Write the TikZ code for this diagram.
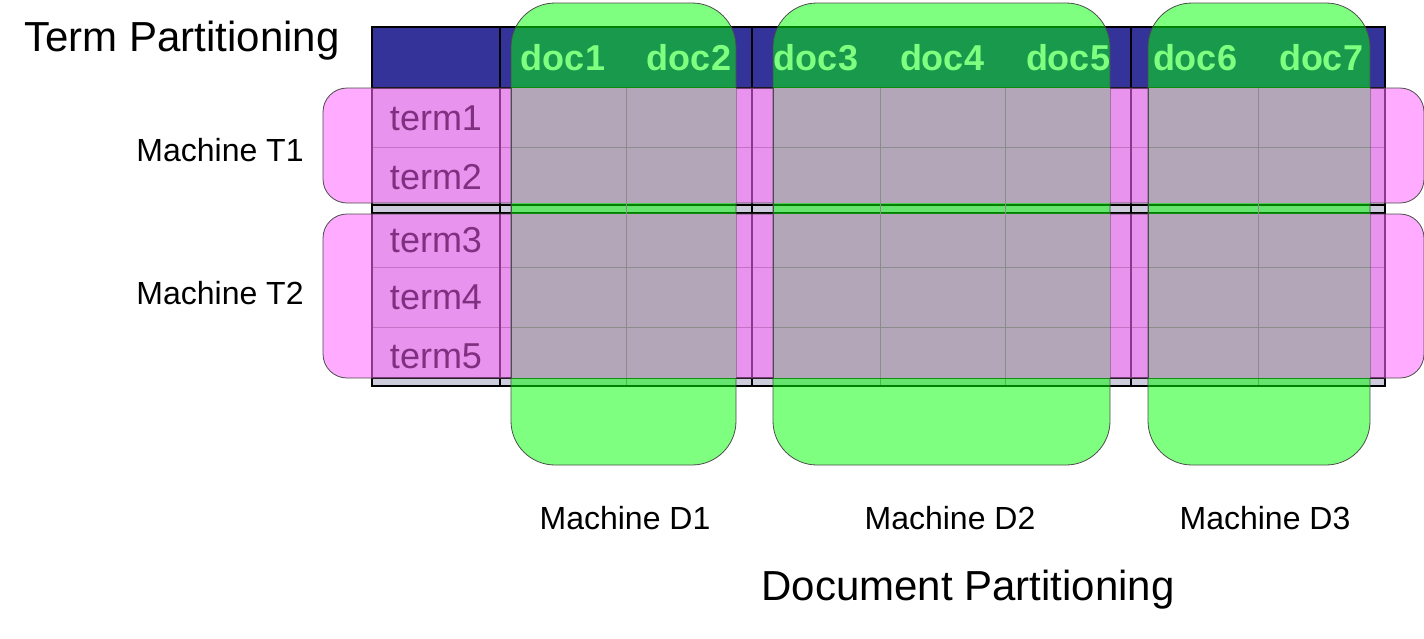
\documentclass[tikz,border=0pt]{standalone}
\usepackage{fontspec}
\setmainfont{Liberation Sans}
\usetikzlibrary{positioning}
\definecolor{hdrblue}{RGB}{51,51,153}
\definecolor{cellgray}{RGB}{204,204,221}
\definecolor{termpink}{RGB}{255,102,255}
\definecolor{mixgray}{RGB}{179,166,184}
\definecolor{termtext}{RGB}{128,48,128}
\tikzset{
  machinelabel/.style={font=\fontsize{16}{19}\selectfont},
  titlelabel/.style={font=\fontsize{21}{25}\selectfont},
  doclabel/.style={text=white,font=\fontsize{18}{21}\selectfont\bfseries},
  termlabel/.style={text=termtext,font=\fontsize{18}{21}\selectfont},
  termbox/.style={draw=black!70,fill=termpink,fill opacity=0.55,rounded corners=12pt},
  docbox/.style={draw=black!70,fill=green,fill opacity=0.5,rounded corners=22pt}
}
\begin{document}
\begin{tikzpicture}[x=0.5pt,y=-0.5pt]
\useasboundingbox (0,0) rectangle (1424,638);
% table
\fill[hdrblue] (372,27) rectangle (1385,88);
\fill[cellgray] (372,88) rectangle (1385,386);
\foreach \y in {88,147,205,213,267,327,378}
  \draw[black!50] (372,\y) -- (1385,\y);
\foreach \x in {626,880,1005,1258}
  \draw[black!50] (\x,88) -- (\x,386);
\draw[thick] (372,27) rectangle (1385,386);
\foreach \x in {500,752,1131}
  \draw[thick] (\x,27) -- (\x,386);
\foreach \y in {88,205,213,378}
  \draw[thick] (372,\y) -- (1385,\y);
\foreach \x/\d in {563/1,689/2,816/3,942/4,1068/5,1195/6,1321/7}
  \node[doclabel] (doc\d) at (\x,58) {doc\d};
% machines
\draw[termbox] (323,88) rectangle (1424,203);
\draw[termbox] (323,214) rectangle (1424,378);
\draw[docbox] (511,3) rectangle (736,465);
\draw[docbox] (773,3) rectangle (1110,465);
\draw[docbox] (1148,3) rectangle (1370,465);
% where both machines cover a cell
\foreach \xa/\xb in {511/736,773/1110,1148/1370} {
  \begin{scope}
    \clip (\xa,88) rectangle (\xb,378);
    \fill[mixgray] (\xa,88) rectangle (\xb,203);
    \fill[mixgray] (\xa,214) rectangle (\xb,378);
    \foreach \y in {147,267,327}
      \draw[black!45] (\xa,\y) -- (\xb,\y);
    \foreach \x in {626,880,1005,1258}
      \draw[black!45] (\x,88) -- (\x,378);
    \draw[black!70] (\xa,88) -- (\xa,378) (\xb,88) -- (\xb,378);
  \end{scope}
}
\foreach \y/\t in {118/1,177/2,240/3,297/4,356/5}
  \node[termlabel] (term\t) at (436,\y) {term\t};
% labels
\node[titlelabel] (termpart) at (182,41) {Term Partitioning};
\node[machinelabel] (t1) at (220,150) {Machine T1};
\node[machinelabel] (t2) at (220,293) {Machine T2};
\node[machinelabel] (d1) at (625,518) {Machine D1};
\node[machinelabel] (d2) at (950,518) {Machine D2};
\node[machinelabel] (d3) at (1265,518) {Machine D3};
\node[titlelabel] (docpart) at (968,590) {Document Partitioning};
\end{tikzpicture}
\end{document}
